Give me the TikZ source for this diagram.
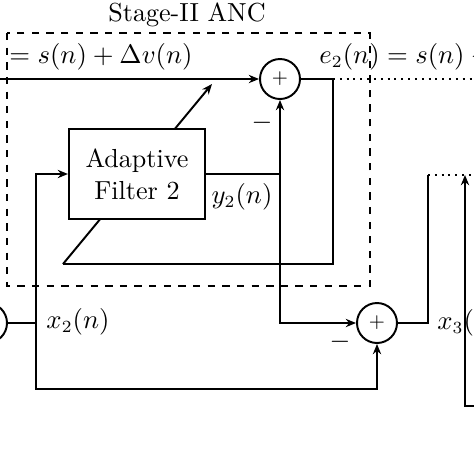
\documentclass[tikz,border=0pt]{standalone}
\usepackage{amsmath,amssymb}
\usepackage{tikz}
\usetikzlibrary{arrows.meta}
\tikzstyle{sumnode}=[shape=circle,draw,thick,minimum size=16.4pt,inner sep=0pt,font=\footnotesize]
\tikzstyle{filt}=[shape=rectangle,draw,thick,fill=white,minimum width=55.8pt,minimum height=36.9pt,align=center]
\tikzstyle{arr}=[-{Stealth[length=4.2pt,width=3.4pt]},thick]
\tikzstyle{common}=[thick]
\tikzstyle{lbl}=[inner sep=0pt]

\begin{document}
\begin{tikzpicture}[x=0.41pt,y=-0.41pt,font=\fontsize{10.7pt}{13pt}\selectfont]
            \useasboundingbox (0,0) rectangle (474,474);
            \clip (0,0) rectangle (474,474);
            % stage box
            \draw[dashed,thick] (7,33) rectangle (370,286);
            \node[lbl] (title) at (187,15) {Stage-II ANC};
            % summing junctions
            \node[sumnode] (S1) at (280,79) {$+$};
            \node[sumnode] (S2) at (377,323) {$+$};
            \node[sumnode] (X) at (-13,323) {};
            % signals
            \coordinate (din) at (-30,79);
            \coordinate (etap) at (333,79);
            \coordinate (eend) at (63,264);
            \coordinate (mu) at (212,84);
            \coordinate (xtap) at (36,323);
            \coordinate (xlow) at (36,389);
            \coordinate (ytap) at (280,174);
            \coordinate (otap) at (428,175);
            \coordinate (rin) at (500,406);
            \draw[arr] (din) -- (S1);
            \draw[common] (S1) -- (etap);
            \draw[dotted,thick] (etap) -- (500,79);
            \draw[common] (etap) |- (eend);
            \draw[arr] (eend) -- (mu);
            % adaptive filter
            \node[filt] (AF) at (137,174) {Adaptive\\Filter 2};
            \draw[common] (AF.east) -- (ytap);
            \draw[arr] (ytap) -- (S1);
            \draw[arr] (ytap) |- (S2);
            \draw[common] (X) -- (xtap);
            \draw[arr] (xtap) |- (AF.west);
            \draw[arr] (xtap) -- (xlow) -| (S2);
            \draw[common] (S2) -| (otap);
            \draw[dotted,thick] (otap) -- (500,175);
            \draw[arr] (rin) -| (otap -| 465,0);
            % labels
            \node[lbl,anchor=base east] (dlbl) at (193,63) {$d_2(n) = s(n) + \Delta v(n)$};
            \node[lbl,anchor=base west] (elbl) at (319,63) {$e_2(n) = s(n) - \hat{v}(n)$};
            \node[lbl] (m1) at (262,123) {$-$};
            \node[lbl] (m2) at (340,342) {$-$};
            \node[lbl] (ylbl) at (242,197) {$y_2(n)$};
            \node[lbl] (xlbl) at (78,322) {$x_2(n)$};
            \node[lbl,anchor=west] (x3lbl) at (437,323) {$x_3(n)$};
        \end{tikzpicture}
\end{document}
